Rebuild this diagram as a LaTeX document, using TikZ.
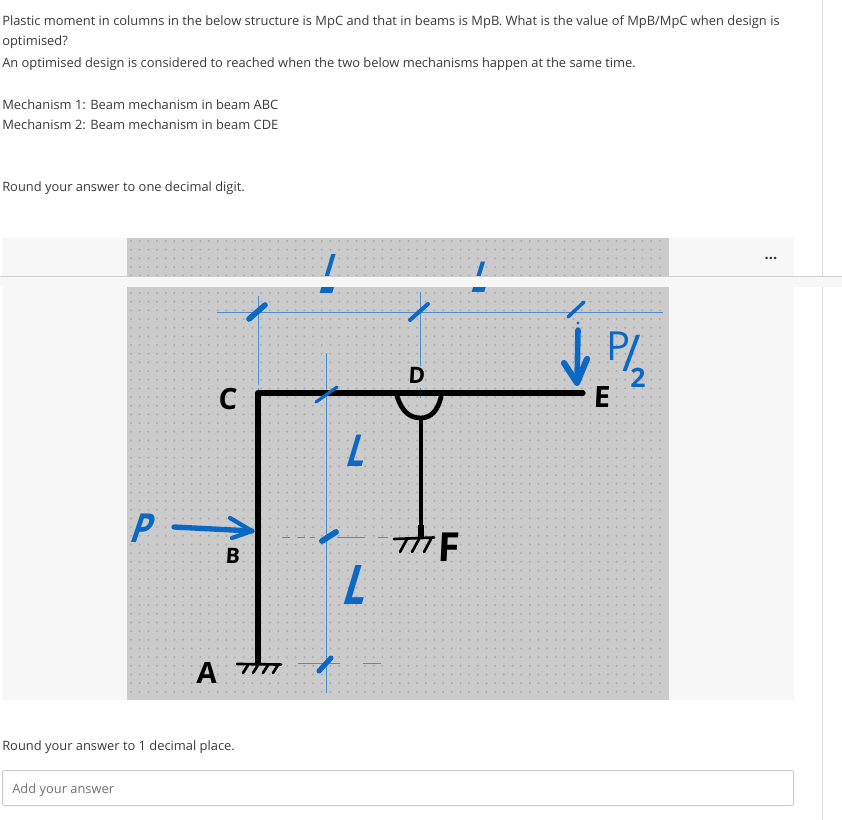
\documentclass[tikz,border=0pt]{standalone}
\usepackage{fontspec}
\setmainfont{Open Sans}
\definecolor{ink}{HTML}{3A3A3A}
\definecolor{panel}{HTML}{F7F7F7}
\definecolor{imgbg}{HTML}{CBCBCB}
\definecolor{imgdot}{HTML}{ABABAB}
\definecolor{rulec}{HTML}{CFCFCF}
\definecolor{penblue}{HTML}{0B68C4}
\definecolor{dimblue}{HTML}{4C8DCB}
\tikzset{
  x=0.75pt,y=-0.75pt,
  para/.style={anchor=base west,inner sep=0,text=ink,font=\fontsize{9.67}{12}\selectfont},
  member/.style={line width=3.9pt,black,line cap=round,line join=round},
  dimline/.style={line width=0.75pt,dimblue},
  tick/.style={line width=3pt,penblue,line cap=round},
  pen/.style={line width=3.2pt,penblue,line cap=round,line join=round},
  inkpen/.style={line width=2pt,black,line cap=round,line join=round},
  blacklabel/.style={inner sep=0,black,transform shape,xslant=0.05,font=\fontsize{22}{22}\selectfont\bfseries},
  bluelabel/.style={inner sep=0,penblue,transform shape,xslant=0.3,xscale=0.75,font=\fontsize{33}{33}\selectfont\bfseries},
}
\begin{document}
\begin{tikzpicture}
\useasboundingbox (0,0) rectangle (842,820);
\fill[white] (0,0) rectangle (842,820);
% text
\node[para] (t1) at (2,26) {Plastic moment in columns in the below structure is MpC and that in beams is MpB. What is the value of MpB/MpC when design is};
\node[para] (t2) at (2,46) {optimised?};
\node[para] (t3) at (2,68) {An optimised design is considered to reached when the two below mechanisms happen at the same time.};
\node[para] (t4) at (2,110) {Mechanism 1: Beam mechanism in beam ABC};
\node[para] (t5) at (2,130) {Mechanism 2: Beam mechanism in beam CDE};
\node[para] (t6) at (2,191) {Round your answer to one decimal digit.};
\node[para] (t7) at (2,750) {Round your answer to 1 decimal place.};
% panel and picture ground
\fill[panel] (2,238) rectangle (794,700);
\fill[imgbg] (127,238) rectangle (669,700);
\foreach \i in {0,...,61}{\foreach \j in {0,...,52}{
  \fill[imgdot] ({131+8.67*\i},{241+8.67*\j}) circle[radius=1.1];}}
\draw[rulec!70,line width=0.75pt] (822,0) -- (822,820);
% named points
\coordinate (C) at (258,393);
\coordinate (E) at (583,393);
\coordinate (A) at (258,663);
\coordinate (Dc) at (421,418);
\coordinate (F) at (421,537);
\coordinate (dTL) at (217,312);
\coordinate (dTR) at (663,312);
\coordinate (dV) at (326,353);
\coordinate (dVb) at (326,693);
% dimension lines
\draw[dimline] (dTL) -- (dTR);
\draw[dimline] (258,296) -- (258,385);
\draw[dimline] (258,388) -- (258,393);
\draw[dimline] (420,292) -- (420,366);
\draw[dimline] (420,388) -- (420,398);
\draw[dimline] (dV) -- (dVb);
\draw[dimline] (282,537) -- (290,537) (297,537) -- (305,537) (310,537) -- (315,537) (337,537) -- (365,537) (378,537) -- (388,537);
\draw[dimline] (298,663) -- (340,663) (363,663) -- (381,663);
% structure
\draw[member] (A) -- (C) -- (E);
\draw[line width=2.9pt,black] (Dc) -- (F);
\draw[line width=5pt,black] (F) ++(0,-12) -- (F);
\draw[line width=4.4pt,black] (A) ++(0,-24) -- (A);
\draw[line width=3.6pt,black,line cap=round] (397,396) .. controls (402,412) and (410,418) .. (Dc) .. controls (431,418) and (438,410) .. (441,397);
% supports
\draw[inkpen] (237,664) -- (281,664.5);
\foreach \x in {248,258,268,278} \draw[inkpen] (\x,665) -- (\x-5,673);
\draw[inkpen] (394,539) -- (434,537.5);
\foreach \x in {407,419,431} \draw[inkpen] (\x,539) -- (\x-7,552);
% black labels
\node[blacklabel] (lC) at (228,399) {C};
\node[blacklabel,font=\fontsize{17}{17}\selectfont\bfseries] (lD) at (417,375) {D};
\node[blacklabel] (lE) at (602,397) {E};
\node[blacklabel,font=\fontsize{30}{30}\selectfont\bfseries] (lF) at (449,547) {F};
\node[blacklabel,font=\fontsize{16}{16}\selectfont\bfseries] (lB) at (233,556) {B};
\node[blacklabel,xslant=0] (lA) at (207,673) {A};
% blue ticks
\draw[tick,line width=4.2pt] (249,319) -- (265,305);
\draw[tick] (410,320) -- (428,304);
\draw[tick,line width=2.6pt] (568,317) -- (584,302);
\draw[tick,line width=2.4pt] (316,402) -- (337,387);
\draw[tick,line width=4.4pt] (322,541) -- (336,532);
\draw[tick,line width=3.8pt] (319,671) -- (331,658);
% forces
\coordinate (Pstart) at (174,527);
\coordinate (Ptip) at (252,531);
\draw[pen,line width=4pt] (Pstart) -- (Ptip);
\draw[pen] (230,518) -- (Ptip) -- (232,538);
\coordinate (Qtop) at (578,330);
\coordinate (Qtip) at (577,383);
\fill[penblue] (578,323) circle[radius=1.6];
\draw[pen,line width=4.2pt] (Qtop) -- (Qtip);
\draw[pen,line width=4.6pt] (564,363) -- (Qtip) -- (587,359);
% blue labels
\node[bluelabel,xslant=0.05,xscale=1.1,font=\fontsize{30}{30}\selectfont\bfseries] (lP) at (144,528) {P};
\node[bluelabel] (lL1) at (359,451) {L};
\node[bluelabel,font=\fontsize{41}{41}\selectfont\bfseries] (lL2) at (358,585) {L};
\node[bluelabel,xscale=0.7,font=\fontsize{41}{41}\selectfont\bfseries] (lL3) at (331,273.5) {L};
\node[bluelabel,xscale=0.9,font=\fontsize{32}{32}\selectfont\bfseries] (lL4) at (482,277.5) {L};
\node[inner sep=0,penblue,anchor=north west,font=\fontsize{30}{30}\selectfont] (lP2) at (606,332)
  {P\kern-6pt\raisebox{-8pt}{\fontsize{38}{38}\selectfont /}\kern-8pt\raisebox{-20pt}{\fontsize{20}{20}\selectfont\bfseries 2}};
% band across the picture
\fill[panel] (0,277) rectangle (842,287);
\fill[white] (0,238) rectangle (2,277);
\fill[white] (794,238) rectangle (821,277);
\fill[white] (823,238) rectangle (842,277);
\draw[rulec,line width=0.75pt] (0,276.5) -- (842,276.5);
\node[inner sep=0,text=ink,font=\fontsize{11}{11}\selectfont\bfseries] (dots) at (771,258) {...};
% answer box
\draw[rulec,line width=0.75pt,rounded corners=1.5pt,fill=white] (2.5,770.5) rectangle (793.5,805.5);
\node[para,text=black!55] (ans) at (12,793) {Add your answer};
\end{tikzpicture}
\end{document}
